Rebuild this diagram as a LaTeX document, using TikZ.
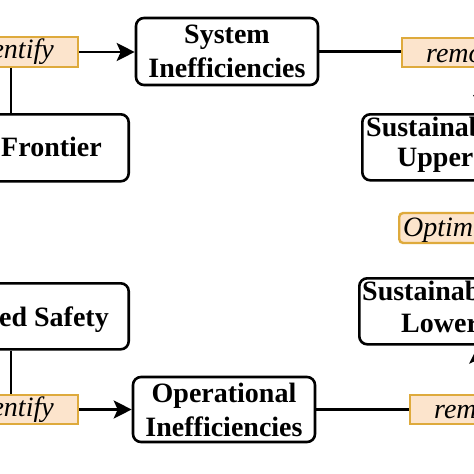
\documentclass[tikz,border=0pt]{standalone}
\usepackage{fontspec}
\setmainfont{Liberation Serif}
\usetikzlibrary{arrows.meta}
\definecolor{labfill}{RGB}{252,228,204}
\definecolor{labdraw}{RGB}{222,170,60}
\begin{document}
\begin{tikzpicture}[x=1pt,y=-1pt,
  mainbox/.style={draw=black, line width=2.6pt, rounded corners=8pt, fill=white, inner sep=0pt},
  boxtext/.style={font=\fontsize{28}{34}\selectfont\bfseries, inner sep=0pt, align=center},
  tagbox/.style={draw=labdraw, fill=labfill, line width=2.4pt, inner sep=0pt},
  tagtext/.style={font=\fontsize{28}{34}\selectfont\itshape, inner sep=0pt},
  link/.style={line width=2.6pt, draw=black},
  arrowlink/.style={link, -{Stealth[length=18pt,width=18pt,inset=4pt]}}]
\useasboundingbox (0,0) rectangle (474,474);
\fill[white] (0,0) rectangle (474,474);
\clip (0,0) rectangle (474,474);

% ---- top row
\node[tagbox, tagtext, minimum width=134pt, minimum height=30pt] (idT) at (11,52) {Identify};
\node[mainbox, boxtext, minimum width=182pt, minimum height=67pt] (sys) at (227,51.5) {System\\Inefficiencies};
\node[tagbox, minimum width=160pt, minimum height=29pt, anchor=west] (remT) at (401,52.5) {};
\node[tagtext, anchor=base west] (remTt) at (426,62) {remove};

% ---- frontier (left, cut)
\node[mainbox, minimum width=240pt, minimum height=67pt, anchor=north east] (front) at (130,113) {};
\node[boxtext, anchor=base east] (frontT) at (102,156) {Frontier};

% ---- upper (right, cut)
\node[mainbox, minimum width=240pt, minimum height=66pt, anchor=north west] (up) at (361,113) {};
\node[boxtext, anchor=base west] (upT1) at (366,136) {Sustainable};
\node[boxtext, anchor=base west] (upT2) at (397,166) {Upper};

% ---- optimize tag
\node[tagbox, rounded corners=4pt, minimum width=140pt, minimum height=30pt, anchor=west] (opt) at (398,228) {};
\node[tagtext, anchor=base west] (optT) at (403,236) {Optimize};

% ---- lower (right, cut)
\node[mainbox, minimum width=240pt, minimum height=66pt, anchor=north west] (low) at (358,277) {};
\node[boxtext, anchor=base west] (lowT1) at (362,300) {Sustainable};
\node[boxtext, anchor=base west] (lowT2) at (401,332) {Lower};

% ---- safety (left, cut)
\node[mainbox, minimum width=240pt, minimum height=66pt, anchor=north east] (safe) at (130,282) {};
\node[boxtext, anchor=base east] (safeT) at (109,326) {ed Safety};

% ---- bottom row
\node[tagbox, tagtext, minimum width=134pt, minimum height=29pt] (idB) at (11,409.5) {Identify};
\node[mainbox, boxtext, minimum width=182pt, minimum height=65pt] (ops) at (224,409.5) {Operational\\Inefficiencies};
\node[tagbox, minimum width=136pt, minimum height=29pt, anchor=west] (remB) at (409,409.5) {};
\node[tagtext, anchor=base west] (remBt) at (434,418) {remove};

% ---- connectors
\draw[arrowlink] (idT.east) -- (idT.east -| sys.west);
\draw[link] (idT.south) -- (idT.south |- front.north);
\draw[link] (sys.east) -- (sys.east -| remT.west);
\draw[arrowlink] (remT.south) -- (remT.south |- up.north);

\draw[link] (idB.north |- safe.south) -- (idB.north);
\draw[arrowlink] (idB.east) -- (idB.east -| ops.west);
\draw[link] (ops.east) -- (ops.east -| remB.west);
\draw[arrowlink] (remB.north) -- (remB.north |- low.south);
\end{tikzpicture}
\end{document}
